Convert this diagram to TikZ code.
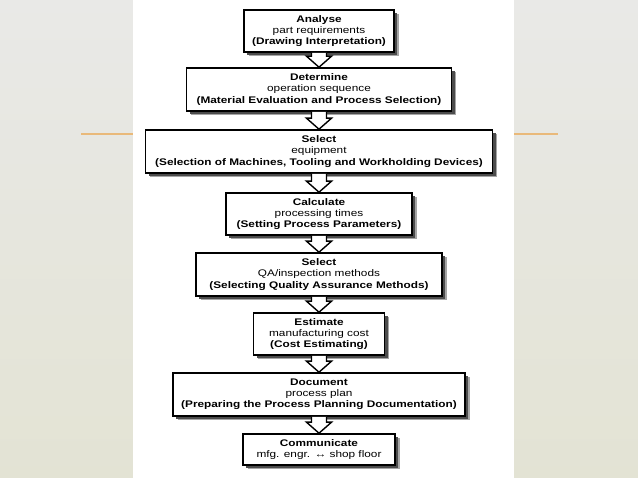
\documentclass[tikz,border=0pt]{standalone}
\usepackage{fontspec}
\setmainfont{Liberation Sans}[FakeStretch=1.23]
\usetikzlibrary{calc,shadows}
\definecolor{bgtop}{HTML}{E9E9E7}
\definecolor{bgbot}{HTML}{E3E3D4}
\definecolor{orangeline}{HTML}{E9B97A}
\tikzset{
  box/.style={draw=black, line width=1.6pt, fill=white, inner sep=0pt, align=center,
    font=\fontsize{9.6pt}{11.2pt}\selectfont,
    drop shadow={shadow xshift=4.5pt, shadow yshift=-4.5pt, fill=black!35, opacity=1},
    drop shadow={shadow xshift=3pt, shadow yshift=-3pt, fill=black!70, opacity=1}},
  flowarrow/.style={draw=black, line width=1.4pt, fill=white, line join=miter}
}
\newcommand\blockarrow[2]{%
  \filldraw[flowarrow] ($(#1.south)+(-7.5,0)$) -- ($(#2.north)+(-7.5,-11)$) -- ($(#2.north)+(-12.5,-11)$)
    -- (#2.north) -- ($(#2.north)+(12.5,-11)$) -- ($(#2.north)+(7.5,-11)$) -- ($(#1.south)+(7.5,0)$);}
\begin{document}
\begin{tikzpicture}[x=1pt,y=-1pt]
\useasboundingbox (0,0) rectangle (638,478);
\shade[top color=bgtop, bottom color=bgbot] (0,0) rectangle (638,478);
\coordinate (ol1) at (81,134); \coordinate (ol2) at (133,134);
\coordinate (or1) at (514,134); \coordinate (or2) at (558,134);
\draw[orangeline, line width=1.8pt] (ol1) -- (ol2);
\draw[orangeline, line width=1.8pt] (or1) -- (or2);
\fill[white] (133,0) rectangle (514,478);

\node[box, minimum width=150pt, minimum height=42pt] (n1) at (319,31)
  {\textbf{Analyse}\\part requirements\\\textbf{(Drawing Interpretation)}};
\node[box, minimum width=265pt, minimum height=43pt] (n2) at (319,89.5)
  {\textbf{Determine}\\operation sequence\\\textbf{(Material Evaluation and Process Selection)}};
\node[box, minimum width=347pt, minimum height=43pt] (n3) at (319,151.5)
  {\textbf{Select}\\equipment\\\textbf{(Selection of Machines, Tooling and Workholding Devices)}};
\node[box, minimum width=186pt, minimum height=42pt] (n4) at (319,214)
  {\textbf{Calculate}\\processing times\\\textbf{(Setting Process Parameters)}};
\node[box, minimum width=246pt, minimum height=43pt] (n5) at (319,274.5)
  {\textbf{Select}\\QA/inspection methods\\\textbf{(Selecting Quality Assurance Methods)}};
\node[box, minimum width=131pt, minimum height=42pt] (n6) at (319,334)
  {\textbf{Estimate}\\manufacturing cost\\\textbf{(Cost Estimating)}};
\node[box, minimum width=292pt, minimum height=43pt] (n7) at (319,394.5)
  {\textbf{Document}\\process plan\\\textbf{(Preparing the Process Planning Documentation)}};
\node[box, minimum width=152pt, minimum height=31pt] (n8) at (319,449.5)
  {\textbf{Communicate}\\mfg. engr. ↔ shop floor};

\blockarrow{n1}{n2}
\blockarrow{n2}{n3}
\blockarrow{n3}{n4}
\blockarrow{n4}{n5}
\blockarrow{n5}{n6}
\blockarrow{n6}{n7}
\blockarrow{n7}{n8}
\end{tikzpicture}
\end{document}
